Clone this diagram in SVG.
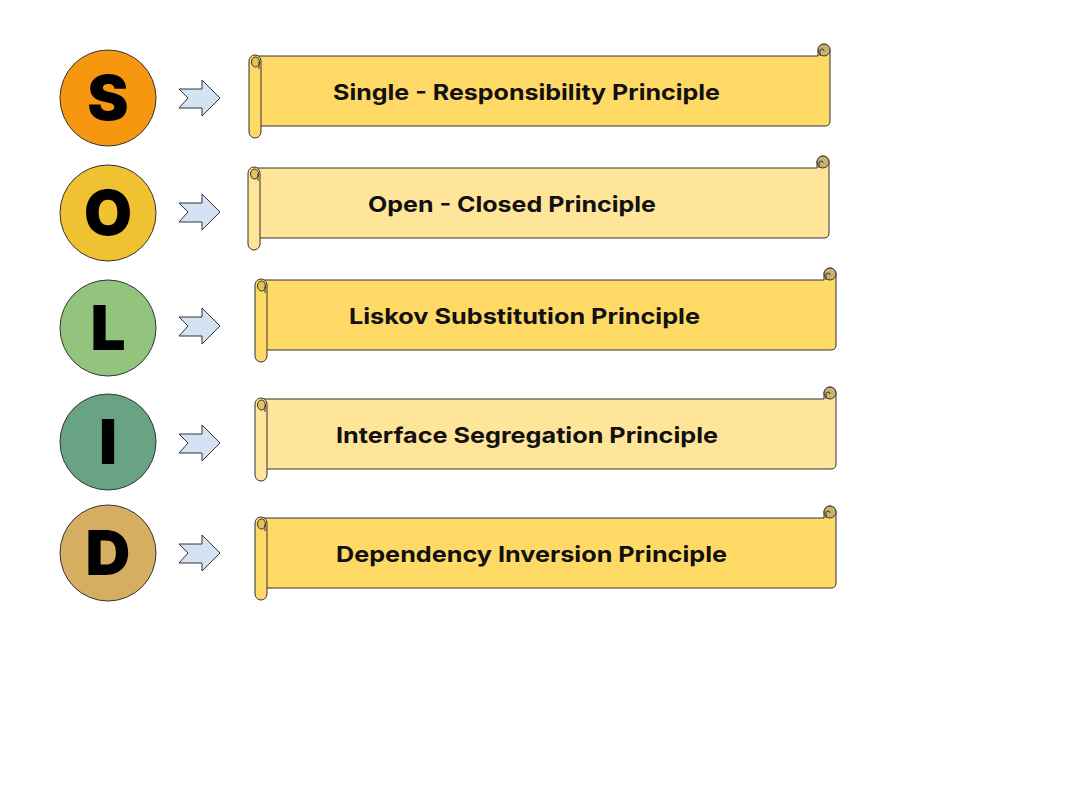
<svg xmlns="http://www.w3.org/2000/svg" xmlns:xlink="http://www.w3.org/1999/xlink" width="1067" height="800" viewBox="0 0 1067 800">
<style>
.circ{stroke:#333;stroke-width:1}
.big{font-family:Inter,"Liberation Sans",sans-serif;font-weight:900;font-size:62px;fill:#000;text-anchor:middle}
.lbl{font-family:Inter,"Liberation Sans",sans-serif;font-weight:700;font-size:22px;fill:#111;text-anchor:middle}
.arr{fill:#D4E3F3;stroke:#333;stroke-width:1}
.dark{fill:#FFD966}
.light{fill:#FFE599}
.ln{stroke:#333;stroke-width:1}
</style>
<defs>
<g id="scroll">
<path class="ln" d="M6,0 H569 V-6 A6 6 0 0 1 581,-6 V65 Q581,70 576,70 H6 Z"/>
<circle cx="575" cy="-6" r="6" fill="#C9B26B" stroke="#333"/>
<path d="M571,0 V-5 A2 2 0 0 1 575,-5" fill="none" stroke="#333"/>
<rect class="ln" x="0" y="-1" width="12" height="83" rx="6"/>
<ellipse cx="6.5" cy="6" rx="4" ry="5" fill="#E6C25A" stroke="#333"/>
<path d="M10,6 V13" fill="none" stroke="#333"/>
</g>
<path id="arrow" class="arr" d="M179,-9 H202 V-18 L220,0 L202,18 V10 H179 L188,0 Z"/>
</defs>
<rect width="1067" height="800" fill="#fff"/>
<g id="connectors">
<use xlink:href="#arrow" href="#arrow" y="98"/>
<use xlink:href="#arrow" href="#arrow" y="212"/>
<use xlink:href="#arrow" href="#arrow" y="326"/>
<use xlink:href="#arrow" href="#arrow" y="443"/>
<use xlink:href="#arrow" href="#arrow" y="553"/>
</g>
<g id="node-S"><circle class="circ" cx="108" cy="98" r="48" fill="#F7960F"/><text class="big" x="108" y="120">S</text></g>
<g id="node-O"><circle class="circ" cx="108" cy="213" r="48" fill="#F0C232"/><text class="big" x="108" y="235">O</text></g>
<g id="node-L"><circle class="circ" cx="108" cy="328" r="48" fill="#93C47D"/><text class="big" x="108" y="350">L</text></g>
<g id="node-I"><circle class="circ" cx="108" cy="442" r="48" fill="#68A384"/><text class="big" x="108" y="464">I</text></g>
<g id="node-D"><circle class="circ" cx="108" cy="553" r="48" fill="#D5AE62"/><text class="big" x="108" y="575">D</text></g>
<g id="scroll-1"><use xlink:href="#scroll" href="#scroll" class="dark" x="249" y="56"/><text class="lbl" x="526.5" y="100" textLength="387" lengthAdjust="spacingAndGlyphs">Single - Responsibility Principle</text></g>
<g id="scroll-2"><use xlink:href="#scroll" href="#scroll" class="light" x="248" y="168"/><text class="lbl" x="512" y="212" textLength="288" lengthAdjust="spacingAndGlyphs">Open - Closed Principle</text></g>
<g id="scroll-3"><use xlink:href="#scroll" href="#scroll" class="dark" x="255" y="280"/><text class="lbl" x="524.5" y="324" textLength="351" lengthAdjust="spacingAndGlyphs">Liskov Substitution Principle</text></g>
<g id="scroll-4"><use xlink:href="#scroll" href="#scroll" class="light" x="255" y="399"/><text class="lbl" x="527" y="443" textLength="382" lengthAdjust="spacingAndGlyphs">Interface Segregation Principle</text></g>
<g id="scroll-5"><use xlink:href="#scroll" href="#scroll" class="dark" x="255" y="518"/><text class="lbl" x="531.5" y="562" textLength="391" lengthAdjust="spacingAndGlyphs">Dependency Inversion Principle</text></g>
</svg>
